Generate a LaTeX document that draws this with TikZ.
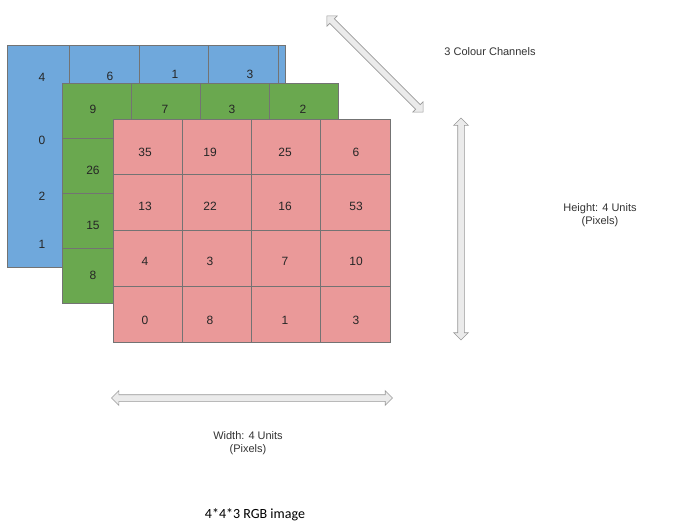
\documentclass[tikz,border=0pt]{standalone}
\usepackage{fontspec}
\setmainfont{Liberation Sans}
\newfontfamily\calib{Carlito}
\usetikzlibrary{shapes.arrows}
\definecolor{cblue}{HTML}{6FA8DC}
\definecolor{cgreen}{HTML}{6AA84F}
\definecolor{cred}{HTML}{EA9999}
\begin{document}
\begin{tikzpicture}[x=1pt,y=-1pt,
  grid/.style={draw=black!55,line width=0.6pt},
  num/.style={font=\fontsize{12}{14}\selectfont,text=black!85},
  lbl/.style={font=\fontsize{11}{13}\selectfont,text=black!80,align=center},
  darr/.style={shape=double arrow,draw=black!40,fill=black!8,inner sep=3pt,
     double arrow head extend=4pt,line width=0.6pt}]
\useasboundingbox (0,0) rectangle (674,531);
% blue
\fill[cblue] (7,45) rectangle (285,267);
\draw[grid] (7,45) grid[xstep=69.5,ystep=55.5] (285,267);
\draw[grid] (7,45) rectangle (285,267);
\node[num] (b1) at (42,77) {4};
\node[num] (b2) at (110,76) {6};
\node[num] (b3) at (175,74) {1};
\node[num] (b4) at (250,74) {3};
\node[num] (b5) at (42,140) {0};
\node[num] (b6) at (42,196) {2};
\node[num] (b7) at (42,244) {1};
% green
\fill[cgreen] (62,83) rectangle (338,303);
\foreach \i in {1,2,3} \draw[grid] (62+69*\i,83) -- (62+69*\i,303);
\foreach \i in {1,2,3} \draw[grid] (62,83+55*\i) -- (338,83+55*\i);
\draw[grid] (62,83) rectangle (338,303);
\node[num] (g1) at (93,109) {9};
\node[num] (g2) at (165,109) {7};
\node[num] (g3) at (232,109) {3};
\node[num] (g4) at (303,109) {2};
\node[num] (g5) at (93,170) {26};
\node[num] (g6) at (93,225) {15};
\node[num] (g7) at (93,275) {8};
% red
\fill[cred] (113,119) rectangle (390,342);
\foreach \i in {1,2,3} \draw[grid] (113+69.25*\i,119) -- (113+69.25*\i,342);
\foreach \i in {1,2,3} \draw[grid] (113,119+55.75*\i) -- (390,119+55.75*\i);
\draw[grid] (113,119) rectangle (390,342);
\foreach \r/\y/\a/\b/\c/\d in {1/152/35/19/25/6,2/206/13/22/16/53,3/261/4/3/7/10,4/320/0/8/1/3}{
  \node[num] (r\r a) at (145,\y) {\a};
  \node[num] (r\r b) at (210,\y) {\b};
  \node[num] (r\r c) at (285,\y) {\c};
  \node[num] (r\r d) at (356,\y) {\d};
}
% arrows
\node[darr,minimum height=136pt,rotate=-45] (ad) at (375,64) {};
\node[darr,minimum height=222pt,rotate=90] (av) at (461,229) {};
\node[darr,minimum height=281pt] (ah) at (252,398) {};
% labels
\node[lbl] (tc) at (490,52) {3 Colour Channels};
\node[lbl] (th) at (600,215) {Height: 4 Units\\(Pixels)};
\node[lbl] (tw) at (248,443) {Width: 4 Units\\(Pixels)};
\node[font=\calib\fontsize{14}{16}\selectfont] (tt) at (255,515) {4*4*3 RGB image};
\end{tikzpicture}
\end{document}
